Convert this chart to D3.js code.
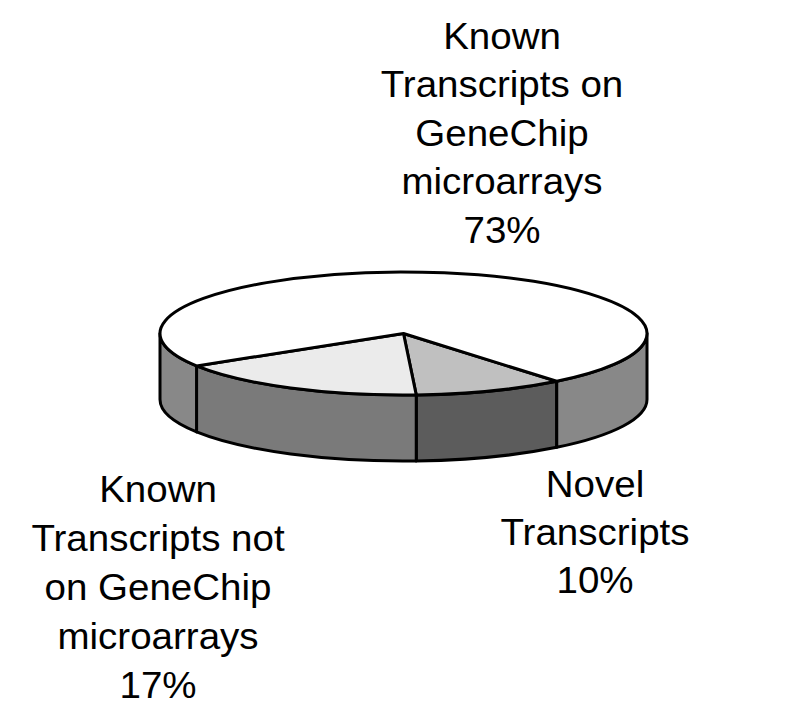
<!DOCTYPE html>
<html>
<head>
<meta charset="utf-8">
<script src="https://cdn.jsdelivr.net/npm/d3@7"></script>
<style>
  html, body { margin: 0; padding: 0; background: #fff; }
  svg { display: block; }
</style>
</head>
<body>
<div id="chart"></div>
<script>
// 3D pie: transcript categories
const categories = ['Novel Transcripts', 'Known Transcripts not on GeneChip microarrays', 'Known Transcripts on GeneChip microarrays'];
const shares = [10, 17, 73];
const labelLines = [
  ['Novel', 'Transcripts', '10%'],
  ['Known', 'Transcripts not', 'on GeneChip', 'microarrays', '17%'],
  ['Known', 'Transcripts on', 'GeneChip', 'microarrays', '73%']
];

const topColors = ['#c0c0c0', '#ebebeb', '#ffffff'];
const sideColors = ['#5c5c5c', '#7a7a7a', '#888888'];

const width = 785, height = 728;
const cx = 403.5, cy = 333.5, rx = 243.5, ry = 61.5, depth = 66;

// label anchor (centre x, first baseline, line step)
const labelPos = [
  { x: 595, y: 497, step: 48 },
  { x: 158, y: 502, step: 49 },
  { x: 502, y: 49, step: 48.5 }
];

const svg = d3.select('#chart')
  .append('svg')
  .attr('width', width)
  .attr('height', height);

const pie = d3.pie()
  .sort(null)
  .startAngle(141 * Math.PI / 180)
  .endAngle(141 * Math.PI / 180 + 2 * Math.PI);

const arcs = pie(shares);

// point on the top ellipse for a d3 angle (clockwise from 12 o'clock)
const px = a => cx + rx * Math.sin(a);
const py = a => cy - ry * Math.cos(a);

function topPath(d) {
  const large = (d.endAngle - d.startAngle) > Math.PI ? 1 : 0;
  return `M${cx},${cy} L${px(d.startAngle)},${py(d.startAngle)} ` +
    `A${rx},${ry} 0 ${large} 1 ${px(d.endAngle)},${py(d.endAngle)} Z`;
}

function sidePath(a0, a1) {
  return `M${px(a0)},${py(a0)} A${rx},${ry} 0 0 1 ${px(a1)},${py(a1)} ` +
    `L${px(a1)},${py(a1) + depth} A${rx},${ry} 0 0 0 ${px(a0)},${py(a0) + depth} Z`;
}

// visible (front) parts of the wall: angles 90..270 deg, repeated each turn
function frontSegments(d) {
  const segs = [];
  for (let k = 0; k < 2; k++) {
    const lo = Math.PI / 2 + k * 2 * Math.PI, hi = 3 * Math.PI / 2 + k * 2 * Math.PI;
    const a0 = Math.max(d.startAngle, lo), a1 = Math.min(d.endAngle, hi);
    if (a1 > a0) segs.push([a0, a1, d.index]);
  }
  return segs;
}

const sides = arcs.flatMap(frontSegments);

svg.append('g')
  .selectAll('path')
  .data(sides)
  .enter().append('path')
  .attr('d', s => sidePath(s[0], s[1]))
  .attr('fill', s => sideColors[s[2]])
  .attr('stroke', '#000')
  .attr('stroke-width', 3)
  .attr('stroke-linejoin', 'round');

svg.append('g')
  .selectAll('path')
  .data(arcs)
  .enter().append('path')
  .attr('d', topPath)
  .attr('fill', d => topColors[d.index])
  .attr('stroke', '#000')
  .attr('stroke-width', 3)
  .attr('stroke-linejoin', 'round');

// labels
const labels = svg.append('g')
  .selectAll('g')
  .data(labelLines)
  .enter().append('g')
  .attr('transform', (d, i) => `translate(${labelPos[i].x},${labelPos[i].y}) scale(1.07,1)`);

labels.selectAll('text')
  .data((d, i) => d.map(t => ({ t, step: labelPos[i].step })))
  .enter().append('text')
  .attr('x', 0)
  .attr('y', (d, j) => j * d.step)
  .attr('text-anchor', 'middle')
  .style('font-family', '"Liberation Sans", Arial, sans-serif')
  .style('font-size', '36px')
  .attr('fill', '#000')
  .text(d => d.t);
</script>
</body>
</html>
